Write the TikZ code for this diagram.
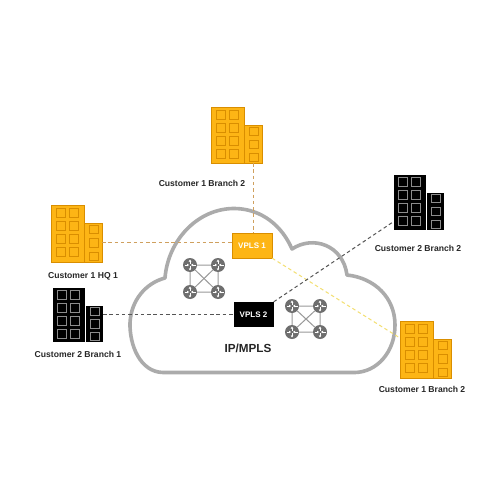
\documentclass[tikz,border=0pt]{standalone}
\usepackage{fontspec}
\usetikzlibrary{arrows.meta}
\setmainfont{Liberation Sans}
\definecolor{org}{HTML}{FDB515}
\definecolor{orgd}{HTML}{D98E00}
\definecolor{cloudc}{HTML}{ABABAB}
\definecolor{rout}{HTML}{6E6E6E}
\definecolor{tan}{HTML}{CFA05E}
\definecolor{yel}{HTML}{F3DF70}
\definecolor{blk}{HTML}{555555}
\tikzset{
  lab/.style={font=\bfseries\fontsize{8.6}{10}\selectfont,text=black!85,inner sep=0pt},
  vpls/.style={minimum width=40,minimum height=25,inner sep=0pt,font=\bfseries\fontsize{8}{9}\selectfont},
  link/.style={dash pattern=on 3.5pt off 2.8pt,line width=1pt},
  mesh/.style={draw=black!40,line width=1pt},
  router/.style={circle,fill=rout,minimum size=14,inner sep=0pt},
  rarrow/.style={white,line width=.8pt,-{Latex[length=2pt,width=3pt]}}
}
\newcommand{\bldg}[7]{% name x y h fill stroke windowstroke
  \begin{scope}[shift={(#2,#3)}]
    \draw[fill=#5,draw=#6,line width=.6pt] (0,0) rectangle (33,#4);
    \draw[fill=#5,draw=#6,line width=.6pt] (33,18) rectangle (51,#4);
    \foreach \r in {0,1,2,3}\foreach \c in {0,1}
      \draw[draw=#7,line width=1pt] (5+13*\c,3.5+13*\r) rectangle ++(9,9);
    \foreach \r in {0,1,2}
      \draw[draw=#7,line width=1pt] (38,{20+\r*(#4-30)/2}) rectangle ++(9,8.5);
    \coordinate (#1-a) at (0,17);
    \coordinate (#1-b) at (0,48);
    \coordinate (#1-side) at (51,37);
    \coordinate (#1-low) at (51,27);
    \coordinate (#1-bot) at (42,#4);
  \end{scope}}
\newcommand{\rtr}[3]{\node[router] (#1) at (#2,#3) {};
  \draw[rarrow] (#2-5.5,#3) -- (#2-1,#3);
  \draw[rarrow] (#2+5.5,#3) -- (#2+1,#3);
  \draw[rarrow] (#2,#3-1) -- (#2,#3-5.5);
  \draw[rarrow] (#2,#3+1) -- (#2,#3+5.5);}
\begin{document}
\begin{tikzpicture}[x=1pt,y=-1pt]
\useasboundingbox[fill=white] (0,0) rectangle (500,500);
\draw[cloudc,line width=3.6pt,line join=round,fill=white]
  (163,372.5) .. controls (140,372) and (129.5,345) .. (130,323)
  .. controls (131,300) and (146,283) .. (165,278)
  .. controls (168,240) and (198,208) .. (235,208.5)
  .. controls (262,209) and (282,226) .. (292,249)
  .. controls (313,235) and (343,245) .. (347,275)
  .. controls (375,278) and (395,298) .. (395,325)
  .. controls (395,352) and (377,372) .. (355,372.5) -- cycle;
\rtr{a1}{190}{265}\rtr{a2}{218}{265}\rtr{a3}{190}{292}\rtr{a4}{218}{292}
\rtr{b1}{292}{306}\rtr{b2}{320}{306}\rtr{b3}{292}{332}\rtr{b4}{320}{332}
\draw[mesh] (a1)--(a2)--(a4)--(a3)--(a1)--(a4) (a2)--(a3);
\draw[mesh] (b1)--(b2)--(b4)--(b3)--(b1)--(b4) (b2)--(b3);
\node[vpls,fill=org,draw=orgd,line width=.5pt,text=white] (v1) at (252,245.5) {VPLS 1};
\node[vpls,fill=black,text=white] (v2) at (253.5,314.5) {VPLS 2};
\node[font=\bfseries\fontsize{11.7}{13}\selectfont,text=black!85,inner sep=0pt] (ip) at (248,348) {IP/MPLS};
\bldg{t}{211}{107}{56}{org}{orgd}{orgd}
\bldg{h}{51}{205}{57}{org}{orgd}{orgd}
\bldg{c}{52}{287}{55}{black}{white}{black!45}
\bldg{d}{393}{174}{56}{black}{white}{black!45}
\bldg{e}{400}{321}{57}{org}{orgd}{orgd}
\draw[link,draw=tan] (t-bot) -- (v1.north -| t-bot);
\draw[link,draw=tan] (h-side) -- (h-side -| v1.west);
\draw[link,draw=yel] (v1.south east) -- (e-a);
\draw[link,draw=blk] (c-low) -- (c-low -| v2.west);
\draw[link,draw=blk] (v2.north east) -- (d-b);
\node[lab] (l1) at (202,183) {Customer 1 Branch 2};
\node[lab] (l2) at (83,276) {Customer 1 HQ 1};
\node[lab] (l3) at (78,354) {Customer 2 Branch 1};
\node[lab] (l4) at (418,248) {Customer 2 Branch 2};
\node[lab] (l5) at (422,389) {Customer 1 Branch 2};
\end{tikzpicture}
\end{document}
